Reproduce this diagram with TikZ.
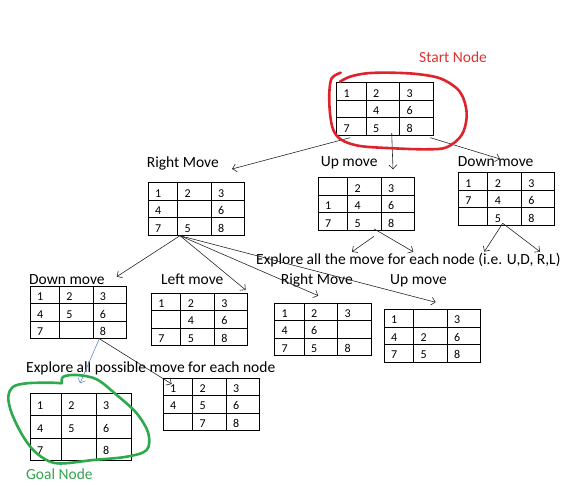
\documentclass[tikz,border=0pt]{standalone}
\usepackage{fontspec}
\setmainfont{Carlito}
\usetikzlibrary{matrix,calc,arrows.meta}
\definecolor{redmark}{RGB}{222,35,45}
\definecolor{greenmark}{RGB}{45,170,75}
\definecolor{bluearrow}{RGB}{95,140,200}
\definecolor{labelred}{RGB}{220,50,50}
\definecolor{labelgreen}{RGB}{50,165,80}
\newcommand\numfont{\fontsize{12}{12}\selectfont}
\newcommand\lblfont{\fontsize{15.5}{17}\selectfont}
\tikzset{
  cellc/.style={draw, line width=1pt, inner xsep=7pt, inner ysep=0pt, align=left,
    font=\numfont, text height=11pt, text depth=0pt},
  puzzle/.style n args={4}{matrix of nodes, nodes in empty cells, anchor=north west,
    inner sep=0pt, column sep=-1pt, row sep=-1pt,
    nodes={cellc, minimum height=#4},
    column 1/.style={nodes={text width=#1}},
    column 2/.style={nodes={text width=#2}},
    column 3/.style={nodes={text width=#3}}},
  std/.style={puzzle={15.5pt}{19.5pt}{19.5pt}{17.5pt}},
  big/.style={puzzle={17.3pt}{20.8pt}{21.2pt}{22.5pt}},
  lbl/.style={anchor=base west, inner sep=0pt, font=\lblfont},
  conn/.style={line width=0.6pt, draw=black!85, -{Straight Barb[length=4pt,width=8pt]}},
  loopline/.style={line width=2.6pt, line cap=round, line join=round},
}
\begin{document}
\begin{tikzpicture}[x=1pt, y=-1pt]
\useasboundingbox (0,0) rectangle (583,486);

% grids
\matrix (start) [std] at (336,82.3) {1 & 2 & 3\\ & 4 & 6\\ 7 & 5 & 8\\};
\matrix (rm) [std] at (147.3,182.3) {1 & 2 & 3\\ 4 & & 6\\ 7 & 5 & 8\\};
\matrix (um) [std] at (317.3,177.3) { & 2 & 3\\ 1 & 4 & 6\\ 7 & 5 & 8\\};
\matrix (dm) [std] at (457.7,172.3) {1 & 2 & 3\\ 7 & 4 & 6\\ & 5 & 8\\};
\matrix (dmb) [std] at (29.3,285.7) {1 & 2 & 3\\ 4 & 5 & 6\\ 7 & & 8\\};
\matrix (lmb) [std] at (150.7,292.3) {1 & 2 & 3\\ & 4 & 6\\ 7 & 5 & 8\\};
\matrix (rmb) [std] at (274,302.3) {1 & 2 & 3\\ 4 & 6 & \\ 7 & 5 & 8\\};
\matrix (umb) [std] at (383.3,309) {1 & & 3\\ 4 & 2 & 6\\ 7 & 5 & 8\\};
\matrix (goal) [big] at (29.3,392.3) {1 & 2 & 3\\ 4 & 5 & 6\\ 7 & & 8\\};
\matrix (last) [std] at (162.3,377.3) {1 & 2 & 3\\ 4 & 5 & 6\\ & 7 & 8\\};

% labels
\node[lbl, text=labelred] (startlbl) at (419,62.7) {Start Node};
\node[lbl] (rmlbl) at (146.7,167.3) {Right Move};
\node[lbl] (umlbl) at (320.7,166.7) {Up move};
\node[lbl] (dmlbl) at (457.7,166.7) {Down move};
\node[lbl] (explore1) at (256,264) {Explore all the move for each node (i.e. U,D, R,L)};
\node[lbl] (dmblbl) at (29,284) {Down move};
\node[lbl] (lmblbl) at (161,284) {Left move};
\node[lbl] (rmblbl) at (280.7,284) {Right Move};
\node[lbl] (umblbl) at (390,284) {Up move};
\node[lbl] (explore2) at (26,372.7) {Explore all possible move for each node};
\node[lbl, text=labelgreen] (goallbl) at (26,479.3) {Goal Node};

% connectors from start
\draw[conn] ($(start.north west)+(14,55.4)$) -- ($(rm.north west)+(84.7,-13.3)$);
\draw[conn] ($(start.north west)+(55.7,50.7)$) -- ($(um.north west)+(75.7,-8)$);
\draw[conn] ($(start.north west)+(94.3,55.4)$) -- ($(dm.north west)+(42.3,-13.3)$);
% from up move
\draw[conn] ($(um.north west)+(56.7,59)$) -- ($(um.north west)+(34.7,74.5)$);
\draw[conn] ($(um.north west)+(56.7,51.5)$) -- ($(um.north west)+(96,74.5)$);
% from down move
\draw[conn] ($(dm.north west)+(45,51)$) -- ($(dm.north west)+(26.6,79.4)$);
\draw[conn] ($(dm.north west)+(45,51)$) -- ($(dm.north west)+(82.3,79.4)$);
% from right move
\coordinate (rmtail) at ($(rm.north west)+(32.7,53.4)$);
\draw[conn] (rmtail) -- ($(dmb.north west)+(87.4,-9)$);
\draw[conn] (rmtail) -- ($(lmb.north west)+(95,-2.3)$);
\draw[conn] (rmtail) -- ($(rmb.north west)+(44.3,-6.6)$);
\draw[conn] (rmtail) -- ($(umb.north west)+(52.4,-6.7)$);
% from bottom down move
\coordinate (dmbtail) at ($(dmb.north west)+(70,53)$);
\draw[conn, draw=bluearrow] (dmbtail) -- ($(goal.north west)+(50.7,-9)$);
\draw[conn] (dmbtail) -- ($(last.north west)+(9.4,6.7)$);

% hand-drawn loops
\draw[loopline, draw=redmark] plot[smooth, tension=0.55] coordinates {
 (340.7,72.7) (331.7,78.3) (329.3,93.3) (330,113.3) (333.3,130) (341.7,140)
 (360,146) (393.3,148.3) (426.7,149.3) (446.7,147.3) (461.7,135) (466.7,116.7)
 (464,100) (456.7,88.3) (440,78.3) (416.7,74) (390,72.7) (366.7,73.3) (350,76.7) (340,81.7)};
\draw[loopline, draw=greenmark] plot[smooth, tension=0.55] coordinates {
 (61.7,382.7) (63.3,376.7) (76.7,375) (96.7,379.3) (116.7,395) (136.7,413.3)
 (148.3,433.3) (146.7,450) (126.7,456.7) (93.3,460) (56.7,463.3) (36.7,453.3)
 (23.3,436.7) (11.7,413.3) (8.3,396.7) (13.3,386.7) (26.7,383.3) (50,382.7) (61.7,383.3)};
\end{tikzpicture}
\end{document}
